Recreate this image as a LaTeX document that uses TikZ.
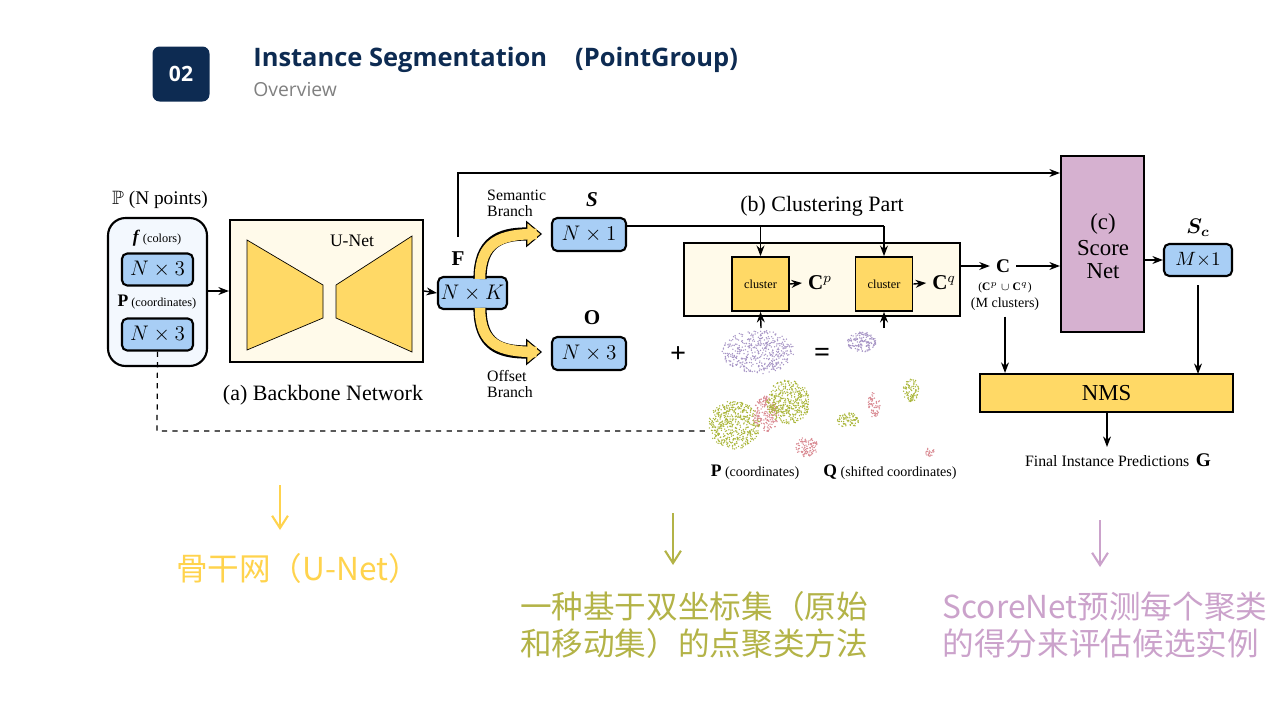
\documentclass[tikz,border=0pt]{standalone}
\usepackage{amssymb,amsmath}
\usepackage{fontspec}
\setmainfont{Liberation Serif}
\newfontfamily\ttl{Open Sans}
\newfontfamily\cjk{Noto Sans CJK SC}
\usetikzlibrary{arrows.meta}
\definecolor{navy}{HTML}{0D2B52}
\definecolor{yel}{HTML}{FFD966}
\definecolor{lblue}{HTML}{A8CEF5}
\definecolor{pink}{HTML}{D6B1D0}
\definecolor{cream}{HTML}{FFFAEA}
\definecolor{panel}{HTML}{F3F8FE}
\definecolor{cy}{HTML}{FFD34D}
\definecolor{co}{HTML}{B3B347}
\definecolor{cp}{HTML}{CBA2CB}
\definecolor{pc1}{HTML}{A593C4}
\definecolor{pc2}{HTML}{A9B538}
\definecolor{pc3}{HTML}{D98A92}
\newcommand{\fs}[1]{\fontsize{#1}{#1}\selectfont}
\newcommand{\myblob}[6]{\foreach \i in {1,...,#6}{\pgfmathsetmacro\ra{sqrt(rnd)}\pgfmathsetmacro\an{360*rnd}\fill[#5] ({#1+#3*\ra*cos(\an)},{#2+#4*\ra*sin(\an)}) circle (0.75);}}
\begin{document}
\begin{tikzpicture}[x=0.02cm,y=-0.02cm,
 bb/.style={draw=black,line width=1.2pt,fill=lblue,rounded corners=3pt,minimum width=71*0.02cm,minimum height=32*0.02cm,inner sep=0pt,font=\fs{12}},
 lab/.style={font=\fs{9}},
 ar/.style={-{Stealth[length=6pt,width=4.5pt]},line width=0.8pt},
 car/.style={-{Straight Barb[length=7pt,width=9pt]},line width=1.2pt}]
\useasboundingbox (0,0) rectangle (1280,720);
% header
\node[fill=navy,rounded corners=4pt,minimum width=57*0.02cm,minimum height=55*0.02cm,text=white,font=\ttl\bfseries\fs{12}] (badge) at (181,74) {02};
\node[anchor=west,text=navy,font=\ttl\bfseries\fs{14.5},inner sep=0] (title) at (253,60) {Instance Segmentation\hspace{1.1em}(PointGroup)};
\node[anchor=west,text=gray,font=\ttl\fs{11},inner sep=0] (ov) at (253,90) {Overview};
% input panel
\node[lab,font=\fs{11}] (Plab) at (160,200) {$\mathbb{P}$ (N points)};
\node[draw=black,line width=1.2pt,fill=panel,rounded corners=10pt,minimum width=99*0.02cm,minimum height=148*0.02cm] (panel) at (157.5,292) {};
\node (flab) at (157,238) {\textbf{\textit{f}}\,\fs{7}(colors)};
\node[bb] (f3) at (157.5,269.5) {$N\times 3$};
\node (plab) at (157,302) {\textbf{P}\,\fs{7}(coordinates)};
\node[bb] (p3) at (157.5,334.5) {$N\times 3$};
% backbone
\node[draw=black,line width=1.2pt,fill=cream,minimum width=193*0.02cm,minimum height=142*0.02cm] (bbn) at (326.5,291) {};
\draw[black,fill=yel] (247,240) -- (323,285) -- (323,318) -- (247,350) -- cycle;
\draw[black,fill=yel] (412,236) -- (336,285) -- (336,318) -- (412,352) -- cycle;
\node[font=\fs{10}] (unet) at (352,241) {U-Net};
\node[font=\fs{12.5}] (bbl) at (323,395) {(a) Backbone Network};
\draw[ar] (panel.east|-bbn) -- (bbn.west);
\node[bb,minimum width=69*0.02cm] (F) at (472.5,293) {$N\times K$};
\node[font=\bfseries\fs{12}] (Flab) at (458,259) {F};
\draw[ar] (bbn.east) -- (F.west);
% branches
\foreach \p in {{(480,279) .. controls (480,242) and (500,234) .. (542,234)},{(480,308) .. controls (480,345) and (500,352) .. (542,352)}}{
 \draw[line width=7.5pt,-{Triangle[length=9pt,width=15pt,fill=yel,line width=0.6pt]}] \p;
 \draw[line width=6pt,yel,shorten >=3pt] \p;}
\node[bb,minimum width=74*0.02cm,minimum height=33*0.02cm] (S) at (589,234.5) {$N\times 1$};
\node[font=\bfseries\itshape\fs{12}] (Slab) at (592,200) {S};
\node[bb,minimum width=74*0.02cm,minimum height=33*0.02cm] (O) at (589,353.5) {$N\times 3$};
\node[font=\bfseries\fs{12}] (Olab) at (592,318) {O};
\node[lab,align=left,anchor=west] (sb) at (481,203) {Semantic\\Branch};
\node[lab,align=left,anchor=west] (ob) at (481,384) {Offset\\Branch};
% clustering
\node[font=\fs{12.5}] (cpl) at (822,206) {(b) Clustering Part};
\node[draw=black,line width=1.2pt,fill=cream,minimum width=276*0.02cm,minimum height=73*0.02cm] (clu) at (822,279.5) {};
\node[draw=black,line width=1pt,fill=yel,minimum width=57*0.02cm,minimum height=54*0.02cm,font=\fs{7}] (c1) at (760.5,284) {cluster};
\node[draw=black,line width=1pt,fill=yel,minimum width=57*0.02cm,minimum height=54*0.02cm,font=\fs{7}] (c2) at (884,284) {cluster};
\node[font=\fs{12}] (Cp) at (820,283) {$\mathbf{C}^p$};
\node[font=\fs{12}] (Cq) at (944,283) {$\mathbf{C}^q$};
\draw[ar] (c1.east) -- (Cp.west);
\draw[ar] (c2.east) -- (Cq.west);
\coordinate (j1) at (760.5,226); \coordinate (j2) at (884,226);
\draw[line width=0.8pt] (S.east|-j1) -- (j2);
\draw[ar] (j1) -- (c1.north);
\draw[ar] (j2) -- (c2.north);
\coordinate (top0) at (458,237); \coordinate (top1) at (458,173);
\node[font=\fs{11}] (C) at (1003,266) {$\mathbf{C}$};
\draw[ar] (clu.east|-C) -- (C.west);
\node[font=\fs{6.5}] (cu) at (1005,288) {($\mathbf{C}^p\cup\mathbf{C}^q$)};
\node[lab,font=\fs{8}] (mc) at (1005,304) {(M clusters)};
% score net
\node[draw=black,line width=1.2pt,fill=pink,minimum width=83*0.02cm,minimum height=176*0.02cm] (sn) at (1102.5,244) {};
\node[font=\fs{13},align=center] (snt) at (1103,246) {(c)\\[2pt]Score\\Net};
\draw[ar] (top0) -- (top1) -- (sn.north west|-top1);
\draw[ar] (C.east) -- (C-|sn.west);
\node[bb,minimum width=68*0.02cm,minimum height=32*0.02cm,font=\fs{11}] (M) at (1198,260) {$M{\times}1$};
\node[font=\fs{12}] (Sc) at (1198,228) {$\boldsymbol{S_c}$};
\draw[ar] (sn.east|-M) -- (M.west);
% NMS
\node[draw=black,line width=1.2pt,fill=yel,minimum width=253*0.02cm,minimum height=38*0.02cm,font=\fs{13}] (nms) at (1106.5,393) {NMS};
\draw[ar] (mc.south) -- (mc.south|-nms.north);
\draw[ar] (1198,285) -- (1198,374);
\node[font=\fs{9}] (fin) at (1118,460) {Final Instance Predictions \,\textbf{\fs{11}G}};
\draw[ar] (nms.south-|1107,0) -- (1107,447);
% point clouds
\node[font=\bfseries\fs{16}] (plus) at (678,355) {+};
\node[font=\bfseries\fs{16}] (eq) at (822,355) {=};
\pgfmathsetseed{7}
\myblob{758}{352}{36}{22}{pc1}{450}
\myblob{734}{425}{26}{24}{pc2}{500}
\myblob{766}{414}{13}{18}{pc3}{200}
\myblob{788}{402}{22}{22}{pc2}{420}
\myblob{807}{447}{11}{10}{pc3}{110}
\myblob{862}{342}{15}{10}{pc1}{150}
\myblob{911}{390}{8}{12}{pc2}{90}
\myblob{874}{405}{6}{13}{pc3}{70}
\myblob{848}{420}{11}{8}{pc2}{80}
\myblob{930}{452}{5}{5}{pc3}{25}
\coordinate (pimg) at (761,328); \coordinate (qimg) at (884,328);
\draw[ar] (pimg) -- (c1.south);
\draw[ar] (qimg) -- (c2.south);
\node[font=\fs{8}] (pl) at (755,472) {\textbf{\fs{10}P} (coordinates)};
\node[font=\fs{8}] (ql) at (890,472) {\textbf{\fs{10}Q} (shifted coordinates)};
\coordinate (d1) at (157,431); \coordinate (d2) at (705,431);
\draw[dashed,line width=0.7pt] (p3.south) -- (d1) -- (d2);
% chinese notes
\coordinate (a1) at (280,485); \coordinate (a2) at (280,530);
\draw[car,cy] (a1) -- (a2);
\coordinate (b1) at (673,513); \coordinate (b2) at (673,565);
\draw[car,co] (b1) -- (b2);
\coordinate (e1) at (1100,520); \coordinate (e2) at (1100,567);
\draw[car,cp] (e1) -- (e2);
\node[text=cy,font=\cjk\fs{18}] (t1) at (298,568) {骨干网（U-Net）};
\node[text=co,font=\cjk\fontsize{18}{21.5}\selectfont,align=left] (t2) at (694,625) {一种基于双坐标集（原始\\和移动集）的点聚类方法};
\node[text=cp,font=\cjk\fontsize{18}{21.5}\selectfont,align=left] (t3) at (1105,625) {ScoreNet预测每个聚类\\的得分来评估候选实例};
\end{tikzpicture}
\end{document}
